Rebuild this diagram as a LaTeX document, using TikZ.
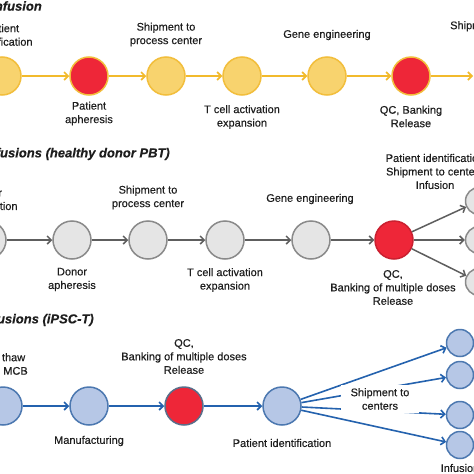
\documentclass[tikz,border=0pt]{standalone}
\usepackage{fontspec}
\setmainfont[FakeBold=0.35]{Liberation Sans}
\usetikzlibrary{arrows.meta}
\definecolor{yfill}{HTML}{F8D36E}
\definecolor{ydraw}{HTML}{F2BE3C}
\definecolor{yline}{HTML}{F2BA2C}
\definecolor{redfill}{HTML}{EE2638}
\definecolor{gfill}{HTML}{E5E5E5}
\definecolor{gdraw}{HTML}{8A8A8A}
\definecolor{gline}{HTML}{5E5E5E}
\definecolor{bfill}{HTML}{B6C7E6}
\definecolor{bdraw}{HTML}{4C78B0}
\definecolor{bline}{HTML}{2462AE}
\definecolor{txt}{HTML}{1E1E1E}
\definecolor{slate}{HTML}{5A6E8A}
\begin{document}
\begin{tikzpicture}[x=1pt,y=-1pt,
  lbl/.style={font=\fontsize{11}{13.5}\selectfont, align=center, inner sep=0pt, text=txt},
  ttl/.style={font=\fontsize{13}{15}\selectfont\bfseries\itshape, inner sep=0pt, anchor=east, text=txt},
  stage/.style={circle, inner sep=0pt, minimum size=38pt, line width=1.5pt},
  smallstage/.style={circle, inner sep=0pt, minimum size=27pt, line width=1.5pt},
  ystage/.style={stage, fill=yfill, draw=ydraw},
  yred/.style={stage, fill=redfill, draw=ydraw},
  gstage/.style={stage, fill=gfill, draw=gdraw},
  gsmall/.style={smallstage, fill=gfill, draw=gdraw},
  gred/.style={stage, fill=redfill, draw=redfill!85!black},
  bstage/.style={stage, fill=bfill, draw=bdraw},
  bsmall/.style={smallstage, fill=bfill, draw=bdraw},
  bred/.style={stage, fill=redfill, draw=slate},
  tip/.style={-{Straight Barb[length=4pt,width=8pt]}},
  yarr/.style={tip, draw=yline, line width=1.6pt},
  garr/.style={tip, draw=gline, line width=1.5pt},
  barr/.style={tip, draw=bline, line width=1.6pt},
]
\useasboundingbox (0,0) rectangle (474,474);
\clip (0,0) rectangle (474,474);
\fill[white] (0,0) rectangle (474,474);

% ---------- Row 1 ----------
\node[ttl] (t1) at (42,6) {infusion};
\node[ystage] (a1) at (2,76) {};
\node[yred]   (a2) at (89,76) {};
\node[ystage] (a3) at (166,76) {};
\node[ystage] (a4) at (242,76) {};
\node[ystage] (a5) at (327,76) {};
\node[yred]   (a6) at (411,76) {};
\coordinate (a7) at (473,76);
\draw[yarr] (a1) -- (a2);
\draw[yarr] (a2) -- (a3);
\draw[yarr] (a3) -- (a4);
\draw[yarr] (a4) -- (a5);
\draw[yarr] (a5) -- (a6);
\draw[yarr] (a6) -- (a7);
\node[lbl] (a1t) at (2,35) {Patient\\identification};
\node[lbl] (a3t) at (166,34.5) {Shipment to\\process center};
\node[lbl] (a5t) at (327,35) {Gene engineering};
\node[lbl, anchor=west] (a7t) at (450,32) {Shipment to center\\Infusion};
\node[lbl] (a2b) at (89,113.5) {Patient\\apheresis};
\node[lbl] (a4b) at (242,117) {T cell activation\\expansion};
\node[lbl] (a6b) at (411,116.5) {QC, Banking\\Release};

% ---------- Row 2 ----------
\node[ttl] (t2) at (170,154) {infusions (healthy donor PBT)};
\node[gstage] (b1) at (-13,240) {};
\node[gstage] (b2) at (72,240) {};
\node[gstage] (b3) at (148,240) {};
\node[gstage] (b4) at (225,240) {};
\node[gstage] (b5) at (311,240) {};
\node[gred]   (b6) at (394,240) {};
\node[gsmall] (b7) at (479,201) {};
\node[gsmall] (b8) at (479,240) {};
\node[gsmall] (b9) at (479,282) {};
\draw[garr] (b1) -- (b2);
\draw[garr] (b2) -- (b3);
\draw[garr] (b3) -- (b4);
\draw[garr] (b4) -- (b5);
\draw[garr] (b5) -- (b6);
\draw[garr] (b6) -- (b7);
\draw[garr] (b6) -- (b8);
\draw[garr] (b6) -- (b9);
\node[lbl] (b1t) at (-13,199.5) {Donor\\identification};
\node[lbl] (b3t) at (148,197.5) {Shipment to\\process center};
\node[lbl] (b5t) at (310,199) {Gene engineering};
\node[lbl] (b7t) at (435,171.5) {Patient identification\\Shipment to centers\\Infusion};
\node[lbl] (b2b) at (72,279.5) {Donor\\apheresis};
\node[lbl] (b4b) at (225,280) {T cell activation\\expansion};
\node[lbl] (b6b) at (393,287.5) {QC,\\Banking of multiple doses\\Release};

% ---------- Row 3 ----------
\node[ttl] (t3) at (94,320) {infusions (iPSC-T)};
\node[bstage] (c1) at (3,406) {};
\node[bstage] (c2) at (89,406) {};
\node[bred]   (c3) at (184,406) {};
\node[bstage] (c4) at (282,406) {};
\node[bsmall] (c5) at (460,343) {};
\node[bsmall] (c6) at (460,375) {};
\node[bsmall] (c7) at (460,415) {};
\node[bsmall] (c8) at (460,445) {};
\draw[barr] (c1) -- (c2);
\draw[barr] (c2) -- (c3);
\draw[barr] (c3) -- (c4);
\draw[barr] (c4) -- (c5);
\draw[barr] (c4) -- (c6);
\draw[barr] (c4) -- (c7);
\draw[barr] (c4) -- (c8);
\node[lbl, fill=white, minimum width=78pt, minimum height=28pt] (ship) at (380,399) {Shipment to\\centers};
\node[lbl] (c1t) at (3,364) {Vial thaw\\from MCB};
\node[lbl] (c3t) at (184,356.5) {QC,\\Banking of multiple doses\\Release};
\node[lbl] (c2b) at (89,441) {Manufacturing};
\node[lbl] (c4b) at (282,443) {Patient identification};
\node[lbl] (c8b) at (460,468) {Infusion};
\end{tikzpicture}
\end{document}
